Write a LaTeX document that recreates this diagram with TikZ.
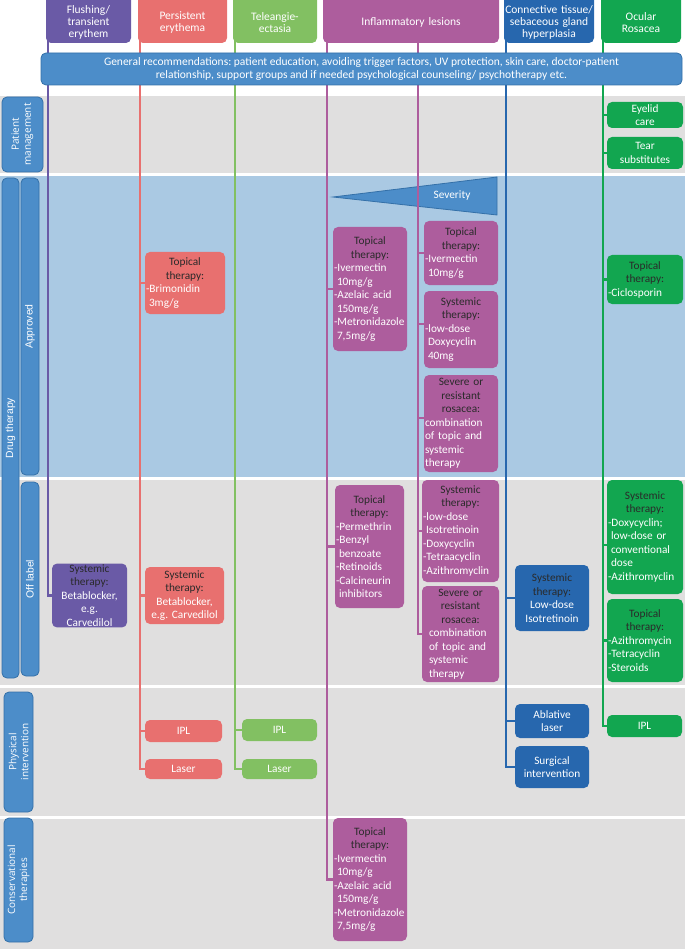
\documentclass[tikz,border=0pt]{standalone}
\usepackage{fontspec}
\setmainfont{Carlito}
\newfontfamily\osans{Open Sans}
\newfontfamily\asans{Liberation Sans}
\frenchspacing
\definecolor{cF}{HTML}{6A5AA6}
\definecolor{cP}{HTML}{E8706F}
\definecolor{cT}{HTML}{82C062}
\definecolor{cI}{HTML}{AD5D9D}
\definecolor{cC}{HTML}{2767AE}
\definecolor{cO}{HTML}{12A650}
\definecolor{cG}{HTML}{4C8DC9}
\definecolor{cGd}{HTML}{3470A8}
\definecolor{bandb}{HTML}{AAC9E3}
\definecolor{bandg}{HTML}{E0DFDF}
\definecolor{hd}{HTML}{2A2A2A}
\newcommand\HD[1]{{\centering\color{hd}#1\par}}
\newcommand\BL[1]{{\raggedright #1\par}}
\newcommand\BC[1]{{\centering #1\par}}
\newcommand\ind{\hspace*{3pt}}
\newcommand\TS{\rule{0pt}{15.5pt}}
\newcommand\BX[7]{%
  \pgfmathsetmacro\bw{#4-#2}\pgfmathsetmacro\bh{#5-#3}\pgfmathsetmacro\tw{#4-#2-2}%
  \node[#6, minimum width=\bw pt, minimum height=\bh pt, text width=\tw pt] (#1) at ({(#2+#4)/2},{(#3+#5)/2}) {#7};}
\newcommand\LB[7]{%
  \pgfmathsetmacro\bw{#5-#3}\pgfmathsetmacro\bh{#4-#2}%
  \node[lab, font=#6, minimum width=\bw pt, minimum height=\bh pt] (#1) at ({(#2+#4)/2},{(#3+#5)/2}) {#7};}
\tikzset{
  box/.style={rounded corners=5pt, inner xsep=1pt, inner ysep=1pt, font=\fontsize{11.3}{13.5}\selectfont, text=white},
  hdr/.style={box, font=\fontsize{11.5}{11.8}\selectfont, align=center},
  small/.style={box, align=center},
  lab/.style={rounded corners=5pt, fill=cG, draw=cGd, line width=0.8pt, text=white, rotate=90, inner sep=0pt, align=center},
  ln/.style={line width=2.5pt},
}
\begin{document}
\begin{tikzpicture}[x=1pt,y=-1pt]
\useasboundingbox (0,0) rectangle (685,949);
\clip (0,0) rectangle (685,949);
% bands
\fill[bandg] (0,96) rectangle (685,173);
\fill[bandb] (0,176) rectangle (685,477);
\fill[bandg] (0,479.5) rectangle (685,684.5);
\fill[bandg] (0,687.5) rectangle (685,816);
\fill[bandg] (0,819) rectangle (685,949);
% severity
\coordinate (sv1) at (333,197);
\coordinate (sv2) at (497,177);
\coordinate (sv3) at (497,215);
\draw[fill=cG, draw=cGd, line width=0.8pt] (sv1) -- (sv2) -- (sv3) -- cycle;
\node[text=white, font=\fontsize{11.3}{13}\selectfont] (sev) at (452,196) {Severity};
% left labels
\LB{lPM}{2}{97}{43}{172}{\osans\fontsize{10}{12}\selectfont}{Patient\\management}
\LB{lDT}{2}{178}{19}{678}{\asans\fontsize{10.4}{12}\selectfont}{Drug therapy}
\LB{lAP}{21}{178}{39}{475}{\asans\fontsize{10.4}{12}\selectfont}{Approved}
\LB{lOL}{21}{482}{39}{676}{\asans\fontsize{10.4}{12}\selectfont}{Off label}
\LB{lPI}{4}{692}{33}{812}{\osans\fontsize{10}{12}\selectfont}{Physical\\intervention}
\LB{lCT}{4}{818}{33}{942}{\osans\fontsize{10}{12}\selectfont}{Conservational\\therapies}
% patient management
\BX{eye}{607}{102}{683}{128}{small,fill=cO}{Eyelid\\care}
\BX{tear}{607}{137}{683}{169}{small,fill=cO}{Tear\\substitutes}
% approved
\BX{pTop}{145}{252}{225}{314}{box,fill=cP}{\HD{Topical\\therapy:}\BL{-Brimonidin\\\ind 3mg/g}}
\BX{iTopA}{333}{227}{407}{351}{box,fill=cI}{\HD{Topical\\therapy:}\BL{-Ivermectin\\\ind 10mg/g\\-Azelaic acid\\\ind 150mg/g\\-Metronidazole\\\ind 7,5mg/g}}
\BX{iTop2}{424}{221}{498}{285}{box,fill=cI}{\HD{Topical\\therapy:}\BL{-Ivermectin\\\ind 10mg/g}}
\BX{iSys}{424}{291}{498}{368}{box,fill=cI}{\HD{Systemic\\therapy:}\BL{-low-dose\\\ind Doxycyclin\\\ind 40mg}}
\BX{iSev}{424}{375}{498}{472}{box,fill=cI}{\HD{Severe or\\resistant\\rosacea:}\BL{combination\\of topic and\\systemic\\therapy}}
\BX{oTop}{607}{255}{683}{304}{box,fill=cO}{\HD{Topical\\therapy:}\BL{-Ciclosporin}}
% off label
\BX{fSys}{52}{567}{127}{624}{box,fill=cF}{\HD{Systemic\\therapy:}\BC{Betablocker,\\e.g.\\Carvedilol}}
\BX{pSys}{145}{567}{224}{624}{box,fill=cP}{\HD{Systemic\\therapy:}\BC{Betablocker,\\e.g. Carvedilol}}
\BX{iTopO}{335}{485}{404}{608}{box,fill=cI}{\HD{Topical\\therapy:}\BL{-Permethrin\\-Benzyl\\\ind benzoate\\-Retinoids\\-Calcineurin\\\ind inhibitors}}
\BX{iSysO}{422}{480}{499}{582}{box,fill=cI}{\HD{Systemic\\therapy:}\BL{-low-dose\\\ind Isotretinoin\\-Doxycyclin\\-Tetraacyclin\\-Azithromyclin}}
\BX{iSevO}{422}{586}{499}{682}{box,fill=cI}{\HD{Severe or\\resistant\\rosacea:}\BL{\hspace*{6pt}combination\\\hspace*{6pt}of topic and\\\hspace*{6pt}systemic\\\hspace*{6pt}therapy}}
\BX{cSys}{515}{565}{589}{631}{box,fill=cC}{\HD{Systemic\\therapy:}\BC{Low-dose\\Isotretinoin}}
\BX{oSys}{607}{480}{683}{594}{box,fill=cO}{\HD{Systemic\\therapy:}\BL{-Doxycyclin;\\\ind low-dose or\\\ind conventional\\\ind dose\\-Azithromyclin}}
\BX{oTopO}{607}{599}{683}{682}{box,fill=cO}{\HD{Topical\\therapy:}\BL{-Azithromycin\\-Tetracyclin\\-Steroids}}
% physical intervention
\BX{pIPL}{145}{720}{222}{742}{small,fill=cP}{IPL}
\BX{pLas}{145}{759}{222}{779}{small,fill=cP}{Laser}
\BX{tIPL}{242}{719}{317}{741}{small,fill=cT}{IPL}
\BX{tLas}{242}{759}{317}{779}{small,fill=cT}{Laser}
\BX{cAbl}{515}{704}{589}{738}{small,fill=cC}{Ablative\\laser}
\BX{cSur}{515}{746}{589}{788}{small,fill=cC}{Surgical\\intervention}
\BX{oIPL}{607}{715}{682}{737}{small,fill=cO}{IPL}
% conservational
\BX{iCons}{333}{818}{407}{941}{box,fill=cI}{\HD{Topical\\therapy:}\BL{-Ivermectin\\\ind 10mg/g\\-Azelaic acid\\\ind 150mg/g\\-Metronidazole\\\ind 7,5mg/g}}
% column lines
\coordinate (tF) at (48,40);
\coordinate (tP) at (140,40);
\coordinate (tT) at (235,40);
\coordinate (tI1) at (327,40);
\coordinate (tI2) at (418,40);
\coordinate (tC) at (506,40);
\coordinate (tO) at (603,40);
\draw[ln,cF] (tF) |- (fSys.west);
\draw[ln,cP] (tP) |- (pTop.west) (tP) |- (pSys.west) (tP) |- (pIPL.west) (tP) |- (pLas.west);
\draw[ln,cT] (tT) |- (tIPL.west) (tT) |- (tLas.west);
\draw[ln,cI] (tI1) |- (iTopA.west) (tI1) |- (iTopO.west) (tI1) |- (iCons.west);
\draw[ln,cI] (tI2) |- (iTop2.west) (tI2) |- ([yshift=5.5pt]iSys.west) (tI2) |- ([yshift=5.5pt]iSev.west) (tI2) |- (iSysO.west) (tI2) |- (iSevO.west);
\draw[ln,cC] (tC) |- (cSys.west) (tC) |- (cAbl.west) (tC) |- (cSur.west);
\draw[ln,cO] (tO) |- (eye.west) (tO) |- (tear.west) (tO) |- (oTop.west) (tO) |- ([yshift=-8pt]oSys.west) (tO) |- (oTopO.west) (tO) |- (oIPL.west);
% general recommendations
\node[rounded corners=5pt, fill=cG, draw=cGd, line width=0.8pt, text=white, align=center, minimum width=641pt, minimum height=32pt, inner sep=1pt, font=\fontsize{11.5}{12.8}\selectfont] (gen) at (361.5,69) {General recommendations: patient education, avoiding trigger factors, UV protection, skin care, doctor-patient\\relationship, support groups and if needed psychological counseling/ psychotherapy etc.};
% headers
\BX{hF}{46}{-6}{131}{43}{hdr,fill=cF}{\TS Flushing/\\transient\\erythem}
\BX{hP}{138}{-6}{227}{43}{hdr,fill=cP}{\TS Persistent\\erythema}
\BX{hT}{233}{-6}{317}{43}{hdr,fill=cT}{\TS Teleangie-\\ectasia}
\BX{hI}{323}{-6}{499}{43}{hdr,fill=cI}{\TS Inflammatory lesions}
\BX{hC}{504}{-6}{594}{43}{hdr,fill=cC}{\TS Connective tissue/\\sebaceous gland\\hyperplasia}
\BX{hO}{601}{-6}{681}{43}{hdr,fill=cO}{\TS Ocular\\Rosacea}
\end{tikzpicture}
\end{document}
